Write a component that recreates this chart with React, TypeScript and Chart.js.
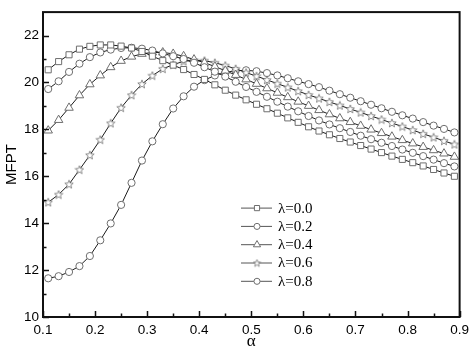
import React, { useEffect, useRef } from "react";
import { Chart, registerables } from "chart.js";
import { drawPoint } from "chart.js/helpers";

Chart.register(...registerables);

const alphas = [
  0.11, 0.13, 0.15, 0.17, 0.19, 0.21, 0.23, 0.25, 0.27, 0.29,
  0.31, 0.33, 0.35, 0.37, 0.39, 0.41, 0.43, 0.45, 0.47, 0.49,
  0.51, 0.53, 0.55, 0.57, 0.59, 0.61, 0.63, 0.65, 0.67, 0.69,
  0.71, 0.73, 0.75, 0.77, 0.79, 0.81, 0.83, 0.85, 0.87, 0.89,
];

const mfptLambda00 = [
  20.54, 20.89, 21.18, 21.42, 21.54, 21.6, 21.6, 21.55, 21.47, 21.32,
  21.12, 20.93, 20.74, 20.55, 20.34, 20.13, 19.9, 19.67, 19.46, 19.26,
  19.07, 18.88, 18.69, 18.49, 18.3, 18.11, 17.93, 17.77, 17.61, 17.46,
  17.31, 17.16, 17.01, 16.86, 16.72, 16.58, 16.44, 16.29, 16.14, 16.0,
];

const mfptLambda02 = [
  19.72, 20.05, 20.45, 20.8, 21.08, 21.28, 21.4, 21.47, 21.48, 21.44,
  21.36, 21.24, 21.12, 21.0, 20.84, 20.65, 20.46, 20.25, 20.03, 19.81,
  19.6, 19.39, 19.18, 18.97, 18.77, 18.57, 18.38, 18.21, 18.05, 17.89,
  17.73, 17.58, 17.43, 17.29, 17.14, 17.0, 16.86, 16.71, 16.56, 16.42,
];

const mfptLambda04 = [
  17.95, 18.4, 18.92, 19.45, 19.92, 20.3, 20.65, 20.92, 21.1, 21.22,
  21.28, 21.28, 21.22, 21.12, 20.98, 20.84, 20.68, 20.5, 20.32, 20.13,
  19.94, 19.75, 19.56, 19.37, 19.18, 19.0, 18.82, 18.64, 18.47, 18.31,
  18.15, 17.99, 17.84, 17.69, 17.54, 17.4, 17.25, 17.11, 16.97, 16.83,
];

const mfptLambda06 = [
  14.89, 15.22, 15.66, 16.28, 16.9, 17.56, 18.26, 18.92, 19.46, 19.93,
  20.29, 20.58, 20.76, 20.9, 20.95, 20.93, 20.84, 20.72, 20.58, 20.42,
  20.27, 20.11, 19.95, 19.79, 19.63, 19.47, 19.32, 19.17, 19.02, 18.87,
  18.72, 18.57, 18.42, 18.27, 18.12, 17.97, 17.81, 17.66, 17.51, 17.36,
];

const mfptLambda08 = [
  11.65, 11.74, 11.92, 12.17, 12.6, 13.27, 13.99, 14.78, 15.72, 16.67,
  17.49, 18.22, 18.89, 19.41, 19.82, 20.1, 20.3, 20.43, 20.5, 20.52,
  20.48, 20.4, 20.3, 20.18, 20.05, 19.93, 19.8, 19.65, 19.5, 19.35,
  19.2, 19.05, 18.9, 18.75, 18.6, 18.46, 18.31, 18.16, 18.02, 17.87,
];

const seriesLabels = ["λ=0.0", "λ=0.2", "λ=0.4", "λ=0.6", "λ=0.8"];
const xTicks = [0.1, 0.2, 0.3, 0.4, 0.5, 0.6, 0.7, 0.8, 0.9];
const xMinorTicks = [0.15, 0.25, 0.35, 0.45, 0.55, 0.65, 0.75, 0.85];
const yTicks = [10, 12, 14, 16, 18, 20, 22];
const yMinorTicks = [11, 13, 15, 17, 19, 21];

const MARKER_STROKE = "#6e6e6e";
const LINE_COLOR = "#1a1a1a";
const TICK_FONT = "Arial, 'Liberation Sans', sans-serif";
const SERIF_FONT = "'Liberation Serif', 'Times New Roman', serif";

function makeStar(size: number, ro: number, ri: number): HTMLCanvasElement {
  const c = document.createElement("canvas");
  c.width = size;
  c.height = size;
  const ctx = c.getContext("2d")!;
  const cx = size / 2, cy = size / 2 + 0.3;
  ctx.beginPath();
  for (let k = 0; k < 10; k++) {
    const r = k % 2 === 0 ? ro : ri;
    const a = -Math.PI / 2 + (k * Math.PI) / 5;
    const px = cx + r * Math.cos(a);
    const py = cy + r * Math.sin(a);
    if (k === 0) ctx.moveTo(px, py);
    else ctx.lineTo(px, py);
  }
  ctx.closePath();
  ctx.fillStyle = "#fff";
  ctx.fill();
  ctx.strokeStyle = MARKER_STROKE;
  ctx.lineWidth = 0.8;
  ctx.stroke();
  return c;
}

export default function App() {
  const ref = useRef<HTMLCanvasElement | null>(null);

  useEffect(() => {
    const canvas = ref.current;
    if (!canvas) return;
    const star = makeStar(10, 4.4, 1.9);
    const smallStar = makeStar(9, 3.8, 1.6);

    const seriesValues = [mfptLambda00, mfptLambda02, mfptLambda04, mfptLambda06, mfptLambda08];
    const styles: any[] = ["rect", "circle", "triangle", star, "circle"];
    const legendStyles: any[] = ["rect", "circle", "triangle", smallStar, "circle"];
    const radii = [4.3, 3.6, 4.9, 5, 3.6];

    const datasets = seriesValues.map((vals, i) => ({
      label: seriesLabels[i],
      data: alphas.map((a, j) => ({ x: a, y: vals[j] })),
      borderColor: LINE_COLOR,
      borderWidth: 1,
      pointStyle: styles[i],
      pointRadius: radii[i],
      pointBorderColor: MARKER_STROKE,
      pointBackgroundColor: "#ffffff",
      pointBorderWidth: 1,
      tension: 0,
      fill: false,
    }));

    const framePlugin = {
      id: "framePlugin",
      afterDraw(chart: any) {
        const ctx = chart.ctx;
        const { left, right, top, bottom } = chart.chartArea;
        const xs = chart.scales.x;
        const ys = chart.scales.y;
        ctx.save();
        ctx.strokeStyle = "#111";
        ctx.lineWidth = 1.5;
        ctx.beginPath();
        yTicks.forEach((v) => {
          const y = Math.round(ys.getPixelForValue(v)) + 0.5;
          ctx.moveTo(left, y);
          ctx.lineTo(left + 6, y);
        });
        yMinorTicks.forEach((v) => {
          const y = Math.round(ys.getPixelForValue(v)) + 0.5;
          ctx.moveTo(left, y);
          ctx.lineTo(left + 3.5, y);
        });
        xTicks.forEach((v) => {
          const x = Math.round(xs.getPixelForValue(v)) + 0.5;
          ctx.moveTo(x, bottom);
          ctx.lineTo(x, bottom - 6);
        });
        xMinorTicks.forEach((v) => {
          const x = Math.round(xs.getPixelForValue(v)) + 0.5;
          ctx.moveTo(x, bottom);
          ctx.lineTo(x, bottom - 3.5);
        });
        ctx.stroke();
        ctx.lineWidth = 2;
        ctx.strokeStyle = "#111";
        ctx.strokeRect(left, top, right - left, bottom - top);

        // legend
        const lx = left + 198;
        const ly0 = top + 196;
        const gap = 18.3;
        chart.data.datasets.forEach((ds: any, i: number) => {
          const y = ly0 + i * gap;
          ctx.strokeStyle = "#555";
          ctx.lineWidth = 1;
          ctx.beginPath();
          ctx.moveTo(lx, y);
          ctx.lineTo(lx + 31, y);
          ctx.stroke();
          ctx.fillStyle = "#fff";
          ctx.strokeStyle = MARKER_STROKE;
          ctx.lineWidth = 1;
          drawPoint(ctx, {
            pointStyle: legendStyles[i],
            radius: ds.pointRadius * 0.85,
            rotation: 0,
            borderWidth: 1,
          }, lx + 16, y);
          ctx.fillStyle = "#000";
          ctx.font = "15px " + SERIF_FONT;
          ctx.textBaseline = "middle";
          ctx.textAlign = "left";
          ctx.fillText(ds.label, lx + 37, y + 0.5);
        });
        ctx.restore();
      },
    };

    const chart = new Chart(canvas, {
      type: "line",
      data: { datasets },
      plugins: [framePlugin],
      options: {
        animation: false,
        responsive: false,
        events: [],
        layout: { padding: { top: 4, right: 11, left: 0, bottom: 0 } },
        plugins: {
          legend: { display: false },
          tooltip: { enabled: false },
        },
        scales: {
          x: {
            type: "linear",
            min: 0.1,
            max: 0.9,
            grid: { display: false, drawTicks: false },
            border: { display: false },
            afterBuildTicks: (s: any) => {
              s.ticks = xTicks.map((v) => ({ value: v }));
            },
            afterFit: (s: any) => {
              s.height = 36;
            },
            ticks: {
              color: "#000",
              padding: 5,
              maxRotation: 0,
              font: { family: TICK_FONT, size: 13.5 },
              callback: (v: any) => Number(v).toFixed(1),
            },
            title: {
              display: true,
              text: "α",
              color: "#000",
              font: { family: SERIF_FONT, size: 17 },
              padding: { top: 0, bottom: 1 },
            },
          },
          y: {
            type: "linear",
            min: 10,
            max: 23,
            grid: { display: false, drawTicks: false },
            border: { display: false },
            afterBuildTicks: (s: any) => {
              s.ticks = yTicks.map((v) => ({ value: v }));
            },
            afterFit: (s: any) => {
              s.width = 43;
            },
            ticks: {
              color: "#000",
              padding: 4,
              font: { family: TICK_FONT, size: 13.5 },
              callback: (v: any) => String(v),
            },
            title: {
              display: true,
              text: "MFPT",
              color: "#000",
              font: { family: TICK_FONT, size: 15 },
              padding: { top: 3, bottom: 0 },
            },
          },
        },
      },
    });

    return () => chart.destroy();
  }, []);

  return (
    <div style={{ position: "fixed", left: 0, top: 0, width: 474, height: 353, background: "#fff" }}>
      <canvas ref={ref} width={474} height={353} style={{ display: "block", width: 474, height: 353 }} />
    </div>
  );
}
